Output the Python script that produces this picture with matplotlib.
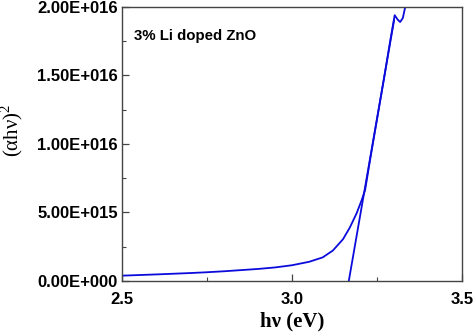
import math
import matplotlib
matplotlib.use("Agg")
import matplotlib.pyplot as plt
from matplotlib.ticker import FuncFormatter, MultipleLocator

# Measured curve: photon energy (eV) and (alpha h nu)^2 in units of 1e16
hv = [2.50, 2.60, 2.70, 2.75, 2.80, 2.90, 2.95, 3.00, 3.05, 3.09, 3.12,
      3.15, 3.17, 3.19, 3.205, 3.215, 3.23, 3.25, 3.27, 3.28, 3.29, 3.302,
      3.31, 3.318, 3.326, 3.333, 3.34]
ahv2 = [0.039, 0.048, 0.058, 0.064, 0.071, 0.088, 0.099, 0.115, 0.140,
        0.172, 0.222, 0.305, 0.39, 0.494, 0.591, 0.664, 0.89, 1.18, 1.47,
        1.62, 1.77, 1.94, 1.91, 1.89, 1.92, 2.00, 2.12]
# Linear fit (Tauc extrapolation)
fit_hv = [3.167, 3.30]
fit_y = [0.0, 1.90]
scale = 1e16

plt.rcParams['mathtext.fontset'] = 'custom'
plt.rcParams['mathtext.rm'] = 'Liberation Serif'

fig = plt.figure(figsize=(4.74, 3.32), dpi=100)
ax = fig.add_axes([0.2574, 0.1536, 0.7173, 0.8254])

col = '#0b0bdc'
ax.plot(hv, [v * scale for v in ahv2], color=col, lw=1.3)
ax.plot(fit_hv, [v * scale for v in fit_y], color=col, lw=1.3)

ax.set_xlim(2.5, 3.5)
ax.set_ylim(0, 2e16)
ax.xaxis.set_major_locator(MultipleLocator(0.5))
ax.xaxis.set_minor_locator(MultipleLocator(0.25))
ax.yaxis.set_major_locator(MultipleLocator(5e15))
ax.yaxis.set_minor_locator(MultipleLocator(2.5e15))

def yfmt(v, pos):
    if v == 0:
        return "0.00E+000"
    e = int(math.floor(math.log10(abs(v)) + 1e-9))
    m = v / 10 ** e
    return "%.2fE+%03d" % (m, e)

ax.yaxis.set_major_formatter(FuncFormatter(yfmt))
ax.xaxis.set_major_formatter(FuncFormatter(lambda v, p: "%.1f" % v))

for lab in ax.get_xticklabels() + ax.get_yticklabels():
    lab.set_fontfamily('Liberation Sans')
    lab.set_fontweight('bold')
    lab.set_fontsize(12)

ax.tick_params(which='both', direction='in', top=False, right=False,
               color='#444444')
ax.tick_params(which='major', length=5, width=0.9)
ax.tick_params(axis='y', which='major', pad=3)
ax.tick_params(axis='x', which='major', pad=8)
ax.tick_params(which='minor', length=3, width=0.8)
for s in ax.spines.values():
    s.set_color('#444444')
    s.set_linewidth(1.0)

ax.set_xlabel("hν (eV)", fontfamily='Liberation Serif', fontweight='bold',
              fontsize=15, labelpad=3)
ax.set_ylabel("(αhν)$^{\\mathrm{2}}$", fontfamily='Liberation Serif',
              fontsize=15)
ax.yaxis.set_label_coords(-0.285, 0.55)

ax.text(0.035, 0.88, "3% Li doped ZnO", transform=ax.transAxes,
        fontfamily='Liberation Sans', fontweight='bold', fontsize=10.8)

fig.savefig("out.png", dpi=100)
